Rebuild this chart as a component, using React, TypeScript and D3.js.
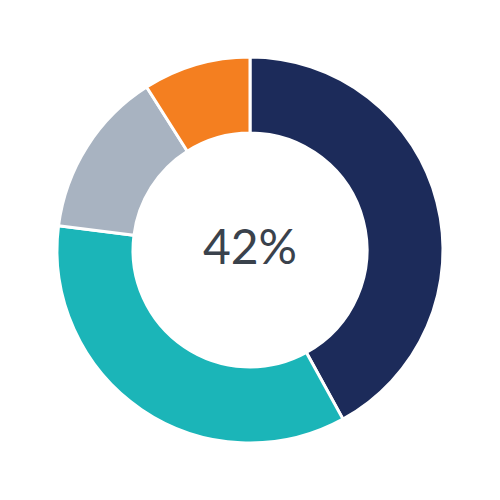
import * as d3 from "d3";
import React from "react";

const categories = ["A", "B", "C", "D"];
const values = [42, 35, 14, 9];
const colors = ["#1c2b5a", "#1bb5b8", "#a8b3c1", "#f47f20"];
const centerLabel = "42%";

export default function App() {
  const width = 500;
  const height = 500;
  const cx = 250;
  const cy = 250;
  const outer = 193;
  const inner = 117;

  const pie = d3
    .pie<number>()
    .sort(null)
    .value((d) => d);
  const arcs = pie(values);
  const arc = d3.arc<d3.PieArcDatum<number>>().innerRadius(inner).outerRadius(outer);

  return (
    <svg
      width={width}
      height={height}
      style={{ position: "absolute", left: 0, top: 0, background: "#fff" }}
    >
      <g transform={`translate(${cx},${cy})`}>
        {arcs.map((a, i) => (
          <path
            key={categories[i]}
            d={arc(a) || ""}
            fill={colors[i]}
            stroke="#fff"
            strokeWidth={3}
          />
        ))}
        <text
          x={0}
          y={14}
          textAnchor="middle"
          fontFamily="Lato, sans-serif"
          fontWeight={400}
          fontSize={48}
          fill="#3a424c"
        >
          {centerLabel}
        </text>
      </g>
    </svg>
  );
}
